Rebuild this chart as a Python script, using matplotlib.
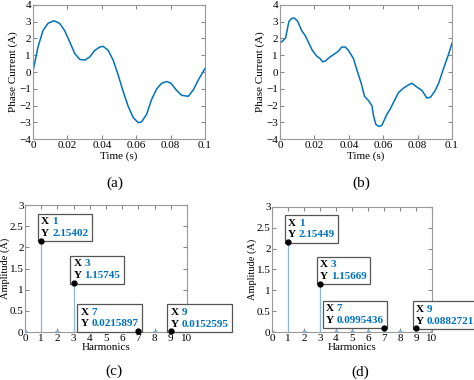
import matplotlib
matplotlib.use("Agg")
import matplotlib.pyplot as plt
from matplotlib.offsetbox import AnnotationBbox, HPacker, TextArea, VPacker

plt.rcParams["font.family"] = ["Liberation Serif", "DejaVu Serif"]
plt.rcParams["font.size"] = 8

BLUE = "#0072BD"
STEM = "#8ab6da"

# (a) phase current
t_a = [0, 0.0029, 0.0058, 0.0087, 0.0122, 0.0155, 0.0184, 0.0214, 0.0243, 0.0272,
       0.0301, 0.033, 0.0359, 0.0388, 0.0408, 0.0437, 0.0466, 0.0495, 0.0524, 0.0553,
       0.0583, 0.0612, 0.0631, 0.066, 0.0689, 0.0718, 0.0748, 0.0777, 0.0802, 0.0835,
       0.0864, 0.0903, 0.0932, 0.0961, 0.1]
i_a = [0.05, 1.49, 2.47, 2.90, 3.06, 2.90, 2.47, 1.78, 1.10, 0.75,
       0.71, 0.90, 1.29, 1.49, 1.53, 1.29, 0.71, -0.18, -1.16, -2.04,
       -2.73, -3.02, -2.98, -2.53, -1.65, -1.02, -0.67, -0.57, -0.67, -1.10,
       -1.39, -1.45, -1.06, -0.47, 0.22]

# (b) phase current
t_b = [0, 0.0019, 0.0033, 0.0045, 0.0052, 0.0068, 0.0083, 0.0103, 0.0126, 0.0146,
       0.0165, 0.0188, 0.0214, 0.0233, 0.0247, 0.0262, 0.0291, 0.032, 0.034, 0.0359,
       0.0379, 0.0398, 0.0427, 0.0447, 0.0472, 0.0491, 0.0515, 0.0534, 0.0544, 0.0557,
       0.0575, 0.0592, 0.0621, 0.0641, 0.066, 0.0689, 0.0718, 0.0748, 0.0767, 0.0796,
       0.0825, 0.0854, 0.0874, 0.0899, 0.0922, 0.0951, 0.0981, 0.1]
i_b = [1.73, 1.88, 2.04, 2.67, 3.02, 3.20, 3.22, 3.02, 2.47, 2.18,
       1.78, 1.29, 0.94, 0.80, 0.61, 0.65, 0.90, 1.10, 1.25, 1.49,
       1.49, 1.29, 0.80, 0.12, -0.67, -1.45, -1.71, -2.00, -2.63, -3.12,
       -3.25, -3.18, -2.53, -2.20, -1.80, -1.22, -0.96, -0.76, -0.67, -0.90,
       -1.10, -1.55, -1.51, -1.16, -0.67, 0.22, 1.10, 1.73]

# (c), (d) harmonic spectra
harmonics = list(range(11))
amp_c = [0, 2.15402, 0, 1.15745, 0, 0, 0, 0.0215897, 0, 0.0152595, 0]
amp_d = [0, 2.15449, 0, 1.15669, 0, 0, 0, 0.0995436, 0, 0.0882721, 0]

tips_c = [(1, "2.15402", "left"), (3, "1.15745", "left"),
          (7, "0.0215897", "right"), (9, "0.0152595", "left")]
tips_d = [(1, "2.15449", "left"), (3, "1.15669", "left"),
          (7, "0.0995436", "right"), (9, "0.0882721", "left")]


def style(ax):
    ax.tick_params(direction="in", top=True, right=True, length=3,
                   color="#888888", labelsize=8, pad=1.5)
    for s in ax.spines.values():
        s.set_color("#999999")
        s.set_linewidth(0.8)


def wave(ax, t, i):
    ax.plot(t, i, color=BLUE, lw=1.1)
    ax.set_xlim(0, 0.1)
    ax.set_ylim(-4, 4)
    ax.set_xticks([0, 0.02, 0.04, 0.06, 0.08, 0.1])
    ax.set_xticklabels(["0", "0.02", "0.04", "0.06", "0.08", "0.1"])
    ax.set_yticks(range(-4, 5))
    ax.set_xlabel("Time (s)", labelpad=1)
    ax.set_ylabel("Phase Current (A)", labelpad=1)
    style(ax)


def spectrum(ax, amp, tips):
    ax.vlines(harmonics, 0, amp, color=STEM, lw=0.9)
    ax.plot(harmonics, amp, "o", ms=2.3, color=STEM, mfc=STEM)
    ax.set_xlim(0, 10)
    ax.set_ylim(0, 3)
    ax.set_xticks(harmonics)
    ax.set_yticks([0, 0.5, 1, 1.5, 2, 2.5, 3])
    ax.set_yticklabels(["0", "0.5", "1", "1.5", "2", "2.5", "3"])
    ax.set_xlabel("Harmonics", labelpad=0)
    ax.set_ylabel("Amplitude (A)", fontsize=7.5)
    ax.yaxis.set_label_coords(-0.094, 0.5)
    style(ax)
    ax.tick_params(axis="y", pad=1)
    for h, val, side in tips:
        y = amp[h]
        ax.plot(h, y, "o", ms=3.5, color="black", zorder=7, clip_on=False)
        fp = dict(size=8, weight="bold")
        rows = [
            HPacker(children=[TextArea("X", textprops=dict(color="black", **fp)),
                              TextArea(str(h), textprops=dict(color=BLUE, **fp))],
                    pad=0, sep=2),
            HPacker(children=[TextArea("Y", textprops=dict(color="black", **fp)),
                              TextArea(val, textprops=dict(color=BLUE, **fp))],
                    pad=0, sep=2),
        ]
        box = VPacker(children=rows, pad=0, sep=2, align="left")
        align = (0, 0) if side == "left" else (1, 0)
        ab = AnnotationBbox(box, (h, y), xycoords="data", box_alignment=align,
                            xybox=(0, 2), boxcoords="offset points",
                            frameon=True, pad=0.3, annotation_clip=False,
                            bboxprops=dict(edgecolor="#555555", lw=0.9, facecolor="white"))
        ab.set_zorder(6)
        ax.add_artist(ab)


fig = plt.figure(figsize=(4.74, 3.8), dpi=100)
ax_a = fig.add_axes([0.0696, 0.634, 0.363, 0.353])
ax_b = fig.add_axes([0.5907, 0.634, 0.363, 0.353])
ax_c = fig.add_axes([0.0527, 0.1263, 0.3418, 0.334])
ax_d = fig.add_axes([0.5738, 0.1263, 0.3376, 0.329])

wave(ax_a, t_a, i_a)
wave(ax_b, t_b, i_b)
spectrum(ax_c, amp_c, tips_c)
spectrum(ax_d, amp_d, tips_d)

for x, y, lab in [(0.243, 0.518, "(a)"), (0.762, 0.518, "(b)"),
                  (0.240, 0.022, "(c)"), (0.760, 0.020, "(d)")]:
    fig.text(x, y, lab, ha="center", va="center", fontsize=11)

fig.savefig("out.png", dpi=100)
